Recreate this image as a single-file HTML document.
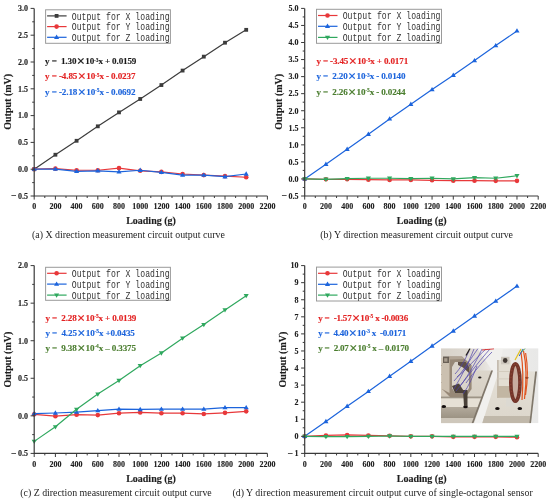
<!DOCTYPE html>
<html><head><meta charset="utf-8"><style>
html,body{margin:0;padding:0;background:#fff;}
svg{display:block;}
.tk{font-family:"Liberation Serif",serif;font-weight:bold;font-size:8px;fill:#1e1e1e;stroke:#1e1e1e;stroke-width:0.12px;}
.at{font-family:"Liberation Serif",serif;font-weight:bold;font-size:10px;fill:#1e1e1e;stroke:#1e1e1e;stroke-width:0.15px;}
.cap{font-family:"Liberation Serif",serif;font-size:9.9px;fill:#1e1e1e;}
.lg{font-family:"Liberation Mono",monospace;font-size:10.3px;fill:#333;}
.eq{font-family:"Liberation Serif",serif;font-weight:bold;font-size:9.1px;}
.sup{font-size:5.5px;}
.mul{font-family:"Noto Sans CJK SC",sans-serif;font-weight:bold;}
</style></head><body>
<svg width="550" height="502" viewBox="0 0 550 502">
<rect width="550" height="502" fill="#fff"/>
<polyline points="34.20,169.20 55.40,154.73 76.60,140.79 97.80,126.32 119.00,112.38 140.20,98.98 161.40,85.05 182.60,70.58 203.80,56.64 225.00,42.70 246.20,29.84" fill="none" stroke="#3c3c3c" stroke-width="1.2" stroke-linejoin="round"/>
<rect x="32.30" y="167.30" width="3.80" height="3.80" fill="#3c3c3c"/>
<rect x="53.50" y="152.83" width="3.80" height="3.80" fill="#3c3c3c"/>
<rect x="74.70" y="138.89" width="3.80" height="3.80" fill="#3c3c3c"/>
<rect x="95.90" y="124.42" width="3.80" height="3.80" fill="#3c3c3c"/>
<rect x="117.10" y="110.48" width="3.80" height="3.80" fill="#3c3c3c"/>
<rect x="138.30" y="97.08" width="3.80" height="3.80" fill="#3c3c3c"/>
<rect x="159.50" y="83.15" width="3.80" height="3.80" fill="#3c3c3c"/>
<rect x="180.70" y="68.68" width="3.80" height="3.80" fill="#3c3c3c"/>
<rect x="201.90" y="54.74" width="3.80" height="3.80" fill="#3c3c3c"/>
<rect x="223.10" y="40.80" width="3.80" height="3.80" fill="#3c3c3c"/>
<rect x="244.30" y="27.94" width="3.80" height="3.80" fill="#3c3c3c"/>
<polyline points="34.20,169.20 55.40,168.66 76.60,170.27 97.80,170.27 119.00,168.13 140.20,170.81 161.40,171.88 182.60,174.02 203.80,175.10 225.00,176.17 246.20,177.24" fill="none" stroke="#e8383a" stroke-width="1.2" stroke-linejoin="round"/>
<circle cx="34.20" cy="169.20" r="2.3" fill="#e8383a"/>
<circle cx="55.40" cy="168.66" r="2.3" fill="#e8383a"/>
<circle cx="76.60" cy="170.27" r="2.3" fill="#e8383a"/>
<circle cx="97.80" cy="170.27" r="2.3" fill="#e8383a"/>
<circle cx="119.00" cy="168.13" r="2.3" fill="#e8383a"/>
<circle cx="140.20" cy="170.81" r="2.3" fill="#e8383a"/>
<circle cx="161.40" cy="171.88" r="2.3" fill="#e8383a"/>
<circle cx="182.60" cy="174.02" r="2.3" fill="#e8383a"/>
<circle cx="203.80" cy="175.10" r="2.3" fill="#e8383a"/>
<circle cx="225.00" cy="176.17" r="2.3" fill="#e8383a"/>
<circle cx="246.20" cy="177.24" r="2.3" fill="#e8383a"/>
<polyline points="34.20,169.20 55.40,169.20 76.60,171.34 97.80,170.81 119.00,171.88 140.20,170.27 161.40,172.42 182.60,175.10 203.80,175.10 225.00,176.70 246.20,174.02" fill="none" stroke="#1c64dc" stroke-width="1.2" stroke-linejoin="round"/>
<path d="M34.20 166.50L36.77 170.87L31.64 170.87Z" fill="#1c64dc"/>
<path d="M55.40 166.50L57.97 170.87L52.84 170.87Z" fill="#1c64dc"/>
<path d="M76.60 168.64L79.16 173.02L74.03 173.02Z" fill="#1c64dc"/>
<path d="M97.80 168.11L100.37 172.48L95.24 172.48Z" fill="#1c64dc"/>
<path d="M119.00 169.18L121.56 173.55L116.44 173.55Z" fill="#1c64dc"/>
<path d="M140.20 167.57L142.76 171.95L137.63 171.95Z" fill="#1c64dc"/>
<path d="M161.40 169.72L163.97 174.09L158.84 174.09Z" fill="#1c64dc"/>
<path d="M182.60 172.40L185.17 176.77L180.04 176.77Z" fill="#1c64dc"/>
<path d="M203.80 172.40L206.37 176.77L201.24 176.77Z" fill="#1c64dc"/>
<path d="M225.00 174.00L227.56 178.38L222.44 178.38Z" fill="#1c64dc"/>
<path d="M246.20 171.32L248.76 175.70L243.63 175.70Z" fill="#1c64dc"/>
<path d="M34.20 8.40V196.00H267.40" fill="none" stroke="#3a3a3a" stroke-width="1.2"/>
<path d="M30.60 196.00H34.20" stroke="#3a3a3a" stroke-width="1"/>
<path d="M32.20 182.60H34.20" stroke="#3a3a3a" stroke-width="1"/>
<path d="M30.60 169.20H34.20" stroke="#3a3a3a" stroke-width="1"/>
<path d="M32.20 155.80H34.20" stroke="#3a3a3a" stroke-width="1"/>
<path d="M30.60 142.40H34.20" stroke="#3a3a3a" stroke-width="1"/>
<path d="M32.20 129.00H34.20" stroke="#3a3a3a" stroke-width="1"/>
<path d="M30.60 115.60H34.20" stroke="#3a3a3a" stroke-width="1"/>
<path d="M32.20 102.20H34.20" stroke="#3a3a3a" stroke-width="1"/>
<path d="M30.60 88.80H34.20" stroke="#3a3a3a" stroke-width="1"/>
<path d="M32.20 75.40H34.20" stroke="#3a3a3a" stroke-width="1"/>
<path d="M30.60 62.00H34.20" stroke="#3a3a3a" stroke-width="1"/>
<path d="M32.20 48.60H34.20" stroke="#3a3a3a" stroke-width="1"/>
<path d="M30.60 35.20H34.20" stroke="#3a3a3a" stroke-width="1"/>
<path d="M32.20 21.80H34.20" stroke="#3a3a3a" stroke-width="1"/>
<path d="M30.60 8.40H34.20" stroke="#3a3a3a" stroke-width="1"/>
<path d="M34.20 196.00V199.60" stroke="#3a3a3a" stroke-width="1"/>
<path d="M44.80 196.00V198.00" stroke="#3a3a3a" stroke-width="1"/>
<path d="M55.40 196.00V199.60" stroke="#3a3a3a" stroke-width="1"/>
<path d="M66.00 196.00V198.00" stroke="#3a3a3a" stroke-width="1"/>
<path d="M76.60 196.00V199.60" stroke="#3a3a3a" stroke-width="1"/>
<path d="M87.20 196.00V198.00" stroke="#3a3a3a" stroke-width="1"/>
<path d="M97.80 196.00V199.60" stroke="#3a3a3a" stroke-width="1"/>
<path d="M108.40 196.00V198.00" stroke="#3a3a3a" stroke-width="1"/>
<path d="M119.00 196.00V199.60" stroke="#3a3a3a" stroke-width="1"/>
<path d="M129.60 196.00V198.00" stroke="#3a3a3a" stroke-width="1"/>
<path d="M140.20 196.00V199.60" stroke="#3a3a3a" stroke-width="1"/>
<path d="M150.80 196.00V198.00" stroke="#3a3a3a" stroke-width="1"/>
<path d="M161.40 196.00V199.60" stroke="#3a3a3a" stroke-width="1"/>
<path d="M172.00 196.00V198.00" stroke="#3a3a3a" stroke-width="1"/>
<path d="M182.60 196.00V199.60" stroke="#3a3a3a" stroke-width="1"/>
<path d="M193.20 196.00V198.00" stroke="#3a3a3a" stroke-width="1"/>
<path d="M203.80 196.00V199.60" stroke="#3a3a3a" stroke-width="1"/>
<path d="M214.40 196.00V198.00" stroke="#3a3a3a" stroke-width="1"/>
<path d="M225.00 196.00V199.60" stroke="#3a3a3a" stroke-width="1"/>
<path d="M235.60 196.00V198.00" stroke="#3a3a3a" stroke-width="1"/>
<path d="M246.20 196.00V199.60" stroke="#3a3a3a" stroke-width="1"/>
<path d="M256.80 196.00V198.00" stroke="#3a3a3a" stroke-width="1"/>
<path d="M267.40 196.00V199.60" stroke="#3a3a3a" stroke-width="1"/>
<text x="28.10" y="198.80" class="tk" text-anchor="end"><tspan style="font-size:9.6px" dy="0.5">−</tspan><tspan dy="-0.5"> </tspan>0.5</text>
<text x="28.10" y="172.00" class="tk" text-anchor="end">0.0</text>
<text x="28.10" y="145.20" class="tk" text-anchor="end">0.5</text>
<text x="28.10" y="118.40" class="tk" text-anchor="end">1.0</text>
<text x="28.10" y="91.60" class="tk" text-anchor="end">1.5</text>
<text x="28.10" y="64.80" class="tk" text-anchor="end">2.0</text>
<text x="28.10" y="38.00" class="tk" text-anchor="end">2.5</text>
<text x="28.10" y="11.20" class="tk" text-anchor="end">3.0</text>
<text x="34.20" y="209.20" class="tk" text-anchor="middle">0</text>
<text x="55.40" y="209.20" class="tk" text-anchor="middle">200</text>
<text x="76.60" y="209.20" class="tk" text-anchor="middle">400</text>
<text x="97.80" y="209.20" class="tk" text-anchor="middle">600</text>
<text x="119.00" y="209.20" class="tk" text-anchor="middle">800</text>
<text x="140.20" y="209.20" class="tk" text-anchor="middle">1000</text>
<text x="161.40" y="209.20" class="tk" text-anchor="middle">1200</text>
<text x="182.60" y="209.20" class="tk" text-anchor="middle">1400</text>
<text x="203.80" y="209.20" class="tk" text-anchor="middle">1600</text>
<text x="225.00" y="209.20" class="tk" text-anchor="middle">1800</text>
<text x="246.20" y="209.20" class="tk" text-anchor="middle">2000</text>
<text x="267.40" y="209.20" class="tk" text-anchor="middle">2200</text>
<text class="at" transform="translate(11.30 101.80) rotate(-90)" text-anchor="middle">Output (mV)</text>
<text class="at" x="151.00" y="224.20" text-anchor="middle">Loading (g)</text>
<text class="cap" x="32.00" y="238.40" textLength="192.80" lengthAdjust="spacing">(a) X direction measurement circuit output curve</text>
<rect x="45.60" y="9.80" width="124.80" height="33.50" fill="#fff" stroke="#9a9a9a" stroke-width="1"/>
<path d="M47.10 15.90H66.60" stroke="#3c3c3c" stroke-width="1.2"/>
<rect x="54.70" y="14.00" width="3.80" height="3.80" fill="#3c3c3c"/>
<text class="lg" x="71.80" y="19.50" textLength="97.80" lengthAdjust="spacingAndGlyphs">Output for X loading</text>
<path d="M47.10 26.60H66.60" stroke="#e8383a" stroke-width="1.2"/>
<circle cx="56.60" cy="26.60" r="2.3" fill="#e8383a"/>
<text class="lg" x="71.80" y="30.20" textLength="97.80" lengthAdjust="spacingAndGlyphs">Output for Y loading</text>
<path d="M47.10 37.30H66.60" stroke="#1c64dc" stroke-width="1.2"/>
<path d="M56.60 34.60L59.16 38.97L54.04 38.97Z" fill="#1c64dc"/>
<text class="lg" x="71.80" y="40.90" textLength="97.80" lengthAdjust="spacingAndGlyphs">Output for Z loading</text>
<text class="eq" x="45.10" y="64.20" fill="#1a1a1a" stroke="#1a1a1a" stroke-width="0.12" textLength="91.30" lengthAdjust="spacing">y =&#160; 1.30<tspan class="mul">×</tspan>10<tspan class="sup" dy="-2.6">-3</tspan><tspan dy="2.6">x + 0.0159</tspan></text>
<text class="eq" x="45.10" y="79.10" fill="#e32222" stroke="#e32222" stroke-width="0.12" textLength="90.40" lengthAdjust="spacing">y = -4.85<tspan class="mul">×</tspan>10<tspan class="sup" dy="-2.6">-5</tspan><tspan dy="2.6">x - 0.0237</tspan></text>
<text class="eq" x="45.10" y="94.50" fill="#1c64dc" stroke="#1c64dc" stroke-width="0.12" textLength="90.40" lengthAdjust="spacing">y = -2.18<tspan class="mul">×</tspan>10<tspan class="sup" dy="-2.6">-5</tspan><tspan dy="2.6">x - 0.0692</tspan></text>
<polyline points="304.70,178.95 325.93,179.29 347.15,179.29 368.38,179.63 389.61,179.97 410.84,179.97 432.06,180.31 453.29,180.65 474.52,180.65 495.75,180.86 516.97,180.86" fill="none" stroke="#e8383a" stroke-width="1.2" stroke-linejoin="round"/>
<circle cx="304.70" cy="178.95" r="2.3" fill="#e8383a"/>
<circle cx="325.93" cy="179.29" r="2.3" fill="#e8383a"/>
<circle cx="347.15" cy="179.29" r="2.3" fill="#e8383a"/>
<circle cx="368.38" cy="179.63" r="2.3" fill="#e8383a"/>
<circle cx="389.61" cy="179.97" r="2.3" fill="#e8383a"/>
<circle cx="410.84" cy="179.97" r="2.3" fill="#e8383a"/>
<circle cx="432.06" cy="180.31" r="2.3" fill="#e8383a"/>
<circle cx="453.29" cy="180.65" r="2.3" fill="#e8383a"/>
<circle cx="474.52" cy="180.65" r="2.3" fill="#e8383a"/>
<circle cx="495.75" cy="180.86" r="2.3" fill="#e8383a"/>
<circle cx="516.97" cy="180.86" r="2.3" fill="#e8383a"/>
<polyline points="304.70,178.95 325.93,164.28 347.15,149.27 368.38,134.26 389.61,118.91 410.84,104.25 432.06,89.58 453.29,75.25 474.52,60.59 495.75,45.58 516.97,30.91" fill="none" stroke="#1c64dc" stroke-width="1.2" stroke-linejoin="round"/>
<path d="M304.70 176.25L307.26 180.62L302.13 180.62Z" fill="#1c64dc"/>
<path d="M325.93 161.58L328.49 165.95L323.36 165.95Z" fill="#1c64dc"/>
<path d="M347.15 146.57L349.72 150.94L344.59 150.94Z" fill="#1c64dc"/>
<path d="M368.38 131.56L370.95 135.94L365.82 135.94Z" fill="#1c64dc"/>
<path d="M389.61 116.21L392.17 120.59L387.04 120.59Z" fill="#1c64dc"/>
<path d="M410.84 101.55L413.40 105.92L408.27 105.92Z" fill="#1c64dc"/>
<path d="M432.06 86.88L434.63 91.25L429.50 91.25Z" fill="#1c64dc"/>
<path d="M453.29 72.55L455.86 76.93L450.73 76.93Z" fill="#1c64dc"/>
<path d="M474.52 57.89L477.08 62.26L471.95 62.26Z" fill="#1c64dc"/>
<path d="M495.75 42.88L498.31 47.25L493.18 47.25Z" fill="#1c64dc"/>
<path d="M516.97 28.21L519.54 32.59L514.41 32.59Z" fill="#1c64dc"/>
<polyline points="304.70,178.95 325.93,179.29 347.15,178.60 368.38,178.26 389.61,178.26 410.84,178.60 432.06,178.26 453.29,178.95 474.52,177.58 495.75,178.26 516.97,175.74" fill="none" stroke="#2fa85e" stroke-width="1.2" stroke-linejoin="round"/>
<path d="M304.70 181.65L307.26 177.27L302.13 177.27Z" fill="#2fa85e"/>
<path d="M325.93 181.99L328.49 177.61L323.36 177.61Z" fill="#2fa85e"/>
<path d="M347.15 181.30L349.72 176.93L344.59 176.93Z" fill="#2fa85e"/>
<path d="M368.38 180.96L370.95 176.59L365.82 176.59Z" fill="#2fa85e"/>
<path d="M389.61 180.96L392.17 176.59L387.04 176.59Z" fill="#2fa85e"/>
<path d="M410.84 181.30L413.40 176.93L408.27 176.93Z" fill="#2fa85e"/>
<path d="M432.06 180.96L434.63 176.59L429.50 176.59Z" fill="#2fa85e"/>
<path d="M453.29 181.65L455.86 177.27L450.73 177.27Z" fill="#2fa85e"/>
<path d="M474.52 180.28L477.08 175.91L471.95 175.91Z" fill="#2fa85e"/>
<path d="M495.75 180.96L498.31 176.59L493.18 176.59Z" fill="#2fa85e"/>
<path d="M516.97 178.44L519.54 174.07L514.41 174.07Z" fill="#2fa85e"/>
<path d="M304.70 8.40V196.00H538.20" fill="none" stroke="#3a3a3a" stroke-width="1.2"/>
<path d="M301.10 196.00H304.70" stroke="#3a3a3a" stroke-width="1"/>
<path d="M302.70 187.47H304.70" stroke="#3a3a3a" stroke-width="1"/>
<path d="M301.10 178.95H304.70" stroke="#3a3a3a" stroke-width="1"/>
<path d="M302.70 170.42H304.70" stroke="#3a3a3a" stroke-width="1"/>
<path d="M301.10 161.89H304.70" stroke="#3a3a3a" stroke-width="1"/>
<path d="M302.70 153.36H304.70" stroke="#3a3a3a" stroke-width="1"/>
<path d="M301.10 144.84H304.70" stroke="#3a3a3a" stroke-width="1"/>
<path d="M302.70 136.31H304.70" stroke="#3a3a3a" stroke-width="1"/>
<path d="M301.10 127.78H304.70" stroke="#3a3a3a" stroke-width="1"/>
<path d="M302.70 119.25H304.70" stroke="#3a3a3a" stroke-width="1"/>
<path d="M301.10 110.73H304.70" stroke="#3a3a3a" stroke-width="1"/>
<path d="M302.70 102.20H304.70" stroke="#3a3a3a" stroke-width="1"/>
<path d="M301.10 93.67H304.70" stroke="#3a3a3a" stroke-width="1"/>
<path d="M302.70 85.15H304.70" stroke="#3a3a3a" stroke-width="1"/>
<path d="M301.10 76.62H304.70" stroke="#3a3a3a" stroke-width="1"/>
<path d="M302.70 68.09H304.70" stroke="#3a3a3a" stroke-width="1"/>
<path d="M301.10 59.56H304.70" stroke="#3a3a3a" stroke-width="1"/>
<path d="M302.70 51.04H304.70" stroke="#3a3a3a" stroke-width="1"/>
<path d="M301.10 42.51H304.70" stroke="#3a3a3a" stroke-width="1"/>
<path d="M302.70 33.98H304.70" stroke="#3a3a3a" stroke-width="1"/>
<path d="M301.10 25.45H304.70" stroke="#3a3a3a" stroke-width="1"/>
<path d="M302.70 16.93H304.70" stroke="#3a3a3a" stroke-width="1"/>
<path d="M301.10 8.40H304.70" stroke="#3a3a3a" stroke-width="1"/>
<path d="M304.70 196.00V199.60" stroke="#3a3a3a" stroke-width="1"/>
<path d="M315.31 196.00V198.00" stroke="#3a3a3a" stroke-width="1"/>
<path d="M325.93 196.00V199.60" stroke="#3a3a3a" stroke-width="1"/>
<path d="M336.54 196.00V198.00" stroke="#3a3a3a" stroke-width="1"/>
<path d="M347.15 196.00V199.60" stroke="#3a3a3a" stroke-width="1"/>
<path d="M357.77 196.00V198.00" stroke="#3a3a3a" stroke-width="1"/>
<path d="M368.38 196.00V199.60" stroke="#3a3a3a" stroke-width="1"/>
<path d="M379.00 196.00V198.00" stroke="#3a3a3a" stroke-width="1"/>
<path d="M389.61 196.00V199.60" stroke="#3a3a3a" stroke-width="1"/>
<path d="M400.22 196.00V198.00" stroke="#3a3a3a" stroke-width="1"/>
<path d="M410.84 196.00V199.60" stroke="#3a3a3a" stroke-width="1"/>
<path d="M421.45 196.00V198.00" stroke="#3a3a3a" stroke-width="1"/>
<path d="M432.06 196.00V199.60" stroke="#3a3a3a" stroke-width="1"/>
<path d="M442.68 196.00V198.00" stroke="#3a3a3a" stroke-width="1"/>
<path d="M453.29 196.00V199.60" stroke="#3a3a3a" stroke-width="1"/>
<path d="M463.90 196.00V198.00" stroke="#3a3a3a" stroke-width="1"/>
<path d="M474.52 196.00V199.60" stroke="#3a3a3a" stroke-width="1"/>
<path d="M485.13 196.00V198.00" stroke="#3a3a3a" stroke-width="1"/>
<path d="M495.75 196.00V199.60" stroke="#3a3a3a" stroke-width="1"/>
<path d="M506.36 196.00V198.00" stroke="#3a3a3a" stroke-width="1"/>
<path d="M516.97 196.00V199.60" stroke="#3a3a3a" stroke-width="1"/>
<path d="M527.59 196.00V198.00" stroke="#3a3a3a" stroke-width="1"/>
<path d="M538.20 196.00V199.60" stroke="#3a3a3a" stroke-width="1"/>
<text x="298.60" y="198.80" class="tk" text-anchor="end"><tspan style="font-size:9.6px" dy="0.5">−</tspan><tspan dy="-0.5"> </tspan>0.5</text>
<text x="298.60" y="181.75" class="tk" text-anchor="end">0.0</text>
<text x="298.60" y="164.69" class="tk" text-anchor="end">0.5</text>
<text x="298.60" y="147.64" class="tk" text-anchor="end">1.0</text>
<text x="298.60" y="130.58" class="tk" text-anchor="end">1.5</text>
<text x="298.60" y="113.53" class="tk" text-anchor="end">2.0</text>
<text x="298.60" y="96.47" class="tk" text-anchor="end">2.5</text>
<text x="298.60" y="79.42" class="tk" text-anchor="end">3.0</text>
<text x="298.60" y="62.36" class="tk" text-anchor="end">3.5</text>
<text x="298.60" y="45.31" class="tk" text-anchor="end">4.0</text>
<text x="298.60" y="28.25" class="tk" text-anchor="end">4.5</text>
<text x="298.60" y="11.20" class="tk" text-anchor="end">5.0</text>
<text x="304.70" y="209.20" class="tk" text-anchor="middle">0</text>
<text x="325.93" y="209.20" class="tk" text-anchor="middle">200</text>
<text x="347.15" y="209.20" class="tk" text-anchor="middle">400</text>
<text x="368.38" y="209.20" class="tk" text-anchor="middle">600</text>
<text x="389.61" y="209.20" class="tk" text-anchor="middle">800</text>
<text x="410.84" y="209.20" class="tk" text-anchor="middle">1000</text>
<text x="432.06" y="209.20" class="tk" text-anchor="middle">1200</text>
<text x="453.29" y="209.20" class="tk" text-anchor="middle">1400</text>
<text x="474.52" y="209.20" class="tk" text-anchor="middle">1600</text>
<text x="495.75" y="209.20" class="tk" text-anchor="middle">1800</text>
<text x="516.97" y="209.20" class="tk" text-anchor="middle">2000</text>
<text x="538.20" y="209.20" class="tk" text-anchor="middle">2200</text>
<text class="at" transform="translate(281.80 101.80) rotate(-90)" text-anchor="middle">Output (mV)</text>
<text class="at" x="421.65" y="224.20" text-anchor="middle">Loading (g)</text>
<text class="cap" x="320.30" y="238.40" textLength="192.70" lengthAdjust="spacing">(b) Y direction measurement circuit output curve</text>
<rect x="316.50" y="9.30" width="125.00" height="34.00" fill="#fff" stroke="#9a9a9a" stroke-width="1"/>
<path d="M318.00 15.50H337.50" stroke="#e8383a" stroke-width="1.2"/>
<circle cx="327.50" cy="15.50" r="2.3" fill="#e8383a"/>
<text class="lg" x="342.70" y="19.10" textLength="97.80" lengthAdjust="spacingAndGlyphs">Output for X loading</text>
<path d="M318.00 26.30H337.50" stroke="#1c64dc" stroke-width="1.2"/>
<path d="M327.50 23.60L330.06 27.97L324.94 27.97Z" fill="#1c64dc"/>
<text class="lg" x="342.70" y="29.90" textLength="97.80" lengthAdjust="spacingAndGlyphs">Output for Y loading</text>
<path d="M318.00 37.40H337.50" stroke="#2fa85e" stroke-width="1.2"/>
<path d="M327.50 40.10L330.06 35.73L324.94 35.73Z" fill="#2fa85e"/>
<text class="lg" x="342.70" y="41.00" textLength="97.80" lengthAdjust="spacingAndGlyphs">Output for Z loading</text>
<text class="eq" x="316.40" y="64.20" fill="#e32222" stroke="#e32222" stroke-width="0.12" textLength="91.80" lengthAdjust="spacing">y = -3.45<tspan class="mul">×</tspan>10<tspan class="sup" dy="-2.6">-5</tspan><tspan dy="2.6">x + 0.0171</tspan></text>
<text class="eq" x="316.40" y="79.10" fill="#1c64dc" stroke="#1c64dc" stroke-width="0.12" textLength="89.10" lengthAdjust="spacing">y =&#160; 2.20<tspan class="mul">×</tspan>10<tspan class="sup" dy="-2.6">-3</tspan><tspan dy="2.6">x - 0.0140</tspan></text>
<text class="eq" x="316.40" y="94.50" fill="#4a7d2e" stroke="#4a7d2e" stroke-width="0.12" textLength="89.10" lengthAdjust="spacing">y =&#160; 2.26<tspan class="mul">×</tspan>10<tspan class="sup" dy="-2.6">-5</tspan><tspan dy="2.6">x - 0.0244</tspan></text>
<polyline points="34.20,414.34 55.40,416.22 76.60,414.71 97.80,415.09 119.00,413.21 140.20,412.46 161.40,413.21 182.60,413.21 203.80,413.96 225.00,412.84 246.20,411.33" fill="none" stroke="#e8383a" stroke-width="1.2" stroke-linejoin="round"/>
<circle cx="34.20" cy="414.34" r="2.3" fill="#e8383a"/>
<circle cx="55.40" cy="416.22" r="2.3" fill="#e8383a"/>
<circle cx="76.60" cy="414.71" r="2.3" fill="#e8383a"/>
<circle cx="97.80" cy="415.09" r="2.3" fill="#e8383a"/>
<circle cx="119.00" cy="413.21" r="2.3" fill="#e8383a"/>
<circle cx="140.20" cy="412.46" r="2.3" fill="#e8383a"/>
<circle cx="161.40" cy="413.21" r="2.3" fill="#e8383a"/>
<circle cx="182.60" cy="413.21" r="2.3" fill="#e8383a"/>
<circle cx="203.80" cy="413.96" r="2.3" fill="#e8383a"/>
<circle cx="225.00" cy="412.84" r="2.3" fill="#e8383a"/>
<circle cx="246.20" cy="411.33" r="2.3" fill="#e8383a"/>
<polyline points="34.20,413.59 55.40,412.99 76.60,412.08 97.80,410.58 119.00,409.08 140.20,409.45 161.40,409.08 182.60,409.08 203.80,409.08 225.00,407.58 246.20,407.58" fill="none" stroke="#1c64dc" stroke-width="1.2" stroke-linejoin="round"/>
<path d="M34.20 410.89L36.77 415.26L31.64 415.26Z" fill="#1c64dc"/>
<path d="M55.40 410.29L57.97 414.66L52.84 414.66Z" fill="#1c64dc"/>
<path d="M76.60 409.38L79.16 413.76L74.03 413.76Z" fill="#1c64dc"/>
<path d="M97.80 407.88L100.37 412.26L95.24 412.26Z" fill="#1c64dc"/>
<path d="M119.00 406.38L121.56 410.75L116.44 410.75Z" fill="#1c64dc"/>
<path d="M140.20 406.75L142.76 411.13L137.63 411.13Z" fill="#1c64dc"/>
<path d="M161.40 406.38L163.97 410.75L158.84 410.75Z" fill="#1c64dc"/>
<path d="M182.60 406.38L185.17 410.75L180.04 410.75Z" fill="#1c64dc"/>
<path d="M203.80 406.38L206.37 410.75L201.24 410.75Z" fill="#1c64dc"/>
<path d="M225.00 404.88L227.56 409.25L222.44 409.25Z" fill="#1c64dc"/>
<path d="M246.20 404.88L248.76 409.25L243.63 409.25Z" fill="#1c64dc"/>
<polyline points="34.20,441.38 55.40,426.81 76.60,409.30 97.80,394.06 119.00,380.53 140.20,365.66 161.40,352.96 182.60,338.17 203.80,324.57 225.00,309.92 246.20,295.65" fill="none" stroke="#2fa85e" stroke-width="1.2" stroke-linejoin="round"/>
<path d="M34.20 444.08L36.77 439.71L31.64 439.71Z" fill="#2fa85e"/>
<path d="M55.40 429.51L57.97 425.13L52.84 425.13Z" fill="#2fa85e"/>
<path d="M76.60 412.00L79.16 407.63L74.03 407.63Z" fill="#2fa85e"/>
<path d="M97.80 396.76L100.37 392.38L95.24 392.38Z" fill="#2fa85e"/>
<path d="M119.00 383.23L121.56 378.86L116.44 378.86Z" fill="#2fa85e"/>
<path d="M140.20 368.36L142.76 363.99L137.63 363.99Z" fill="#2fa85e"/>
<path d="M161.40 355.66L163.97 351.29L158.84 351.29Z" fill="#2fa85e"/>
<path d="M182.60 340.87L185.17 336.49L180.04 336.49Z" fill="#2fa85e"/>
<path d="M203.80 327.27L206.37 322.90L201.24 322.90Z" fill="#2fa85e"/>
<path d="M225.00 312.62L227.56 308.25L222.44 308.25Z" fill="#2fa85e"/>
<path d="M246.20 298.35L248.76 293.97L243.63 293.97Z" fill="#2fa85e"/>
<path d="M34.20 265.60V453.40H267.40" fill="none" stroke="#3a3a3a" stroke-width="1.2"/>
<path d="M30.60 453.40H34.20" stroke="#3a3a3a" stroke-width="1"/>
<path d="M32.20 434.62H34.20" stroke="#3a3a3a" stroke-width="1"/>
<path d="M30.60 415.84H34.20" stroke="#3a3a3a" stroke-width="1"/>
<path d="M32.20 397.06H34.20" stroke="#3a3a3a" stroke-width="1"/>
<path d="M30.60 378.28H34.20" stroke="#3a3a3a" stroke-width="1"/>
<path d="M32.20 359.50H34.20" stroke="#3a3a3a" stroke-width="1"/>
<path d="M30.60 340.72H34.20" stroke="#3a3a3a" stroke-width="1"/>
<path d="M32.20 321.94H34.20" stroke="#3a3a3a" stroke-width="1"/>
<path d="M30.60 303.16H34.20" stroke="#3a3a3a" stroke-width="1"/>
<path d="M32.20 284.38H34.20" stroke="#3a3a3a" stroke-width="1"/>
<path d="M30.60 265.60H34.20" stroke="#3a3a3a" stroke-width="1"/>
<path d="M34.20 453.40V457.00" stroke="#3a3a3a" stroke-width="1"/>
<path d="M44.80 453.40V455.40" stroke="#3a3a3a" stroke-width="1"/>
<path d="M55.40 453.40V457.00" stroke="#3a3a3a" stroke-width="1"/>
<path d="M66.00 453.40V455.40" stroke="#3a3a3a" stroke-width="1"/>
<path d="M76.60 453.40V457.00" stroke="#3a3a3a" stroke-width="1"/>
<path d="M87.20 453.40V455.40" stroke="#3a3a3a" stroke-width="1"/>
<path d="M97.80 453.40V457.00" stroke="#3a3a3a" stroke-width="1"/>
<path d="M108.40 453.40V455.40" stroke="#3a3a3a" stroke-width="1"/>
<path d="M119.00 453.40V457.00" stroke="#3a3a3a" stroke-width="1"/>
<path d="M129.60 453.40V455.40" stroke="#3a3a3a" stroke-width="1"/>
<path d="M140.20 453.40V457.00" stroke="#3a3a3a" stroke-width="1"/>
<path d="M150.80 453.40V455.40" stroke="#3a3a3a" stroke-width="1"/>
<path d="M161.40 453.40V457.00" stroke="#3a3a3a" stroke-width="1"/>
<path d="M172.00 453.40V455.40" stroke="#3a3a3a" stroke-width="1"/>
<path d="M182.60 453.40V457.00" stroke="#3a3a3a" stroke-width="1"/>
<path d="M193.20 453.40V455.40" stroke="#3a3a3a" stroke-width="1"/>
<path d="M203.80 453.40V457.00" stroke="#3a3a3a" stroke-width="1"/>
<path d="M214.40 453.40V455.40" stroke="#3a3a3a" stroke-width="1"/>
<path d="M225.00 453.40V457.00" stroke="#3a3a3a" stroke-width="1"/>
<path d="M235.60 453.40V455.40" stroke="#3a3a3a" stroke-width="1"/>
<path d="M246.20 453.40V457.00" stroke="#3a3a3a" stroke-width="1"/>
<path d="M256.80 453.40V455.40" stroke="#3a3a3a" stroke-width="1"/>
<path d="M267.40 453.40V457.00" stroke="#3a3a3a" stroke-width="1"/>
<text x="28.10" y="456.20" class="tk" text-anchor="end"><tspan style="font-size:9.6px" dy="0.5">−</tspan><tspan dy="-0.5"> </tspan>0.5</text>
<text x="28.10" y="418.64" class="tk" text-anchor="end">0.0</text>
<text x="28.10" y="381.08" class="tk" text-anchor="end">0.5</text>
<text x="28.10" y="343.52" class="tk" text-anchor="end">1.0</text>
<text x="28.10" y="305.96" class="tk" text-anchor="end">1.5</text>
<text x="28.10" y="268.40" class="tk" text-anchor="end">2.0</text>
<text x="34.20" y="466.60" class="tk" text-anchor="middle">0</text>
<text x="55.40" y="466.60" class="tk" text-anchor="middle">200</text>
<text x="76.60" y="466.60" class="tk" text-anchor="middle">400</text>
<text x="97.80" y="466.60" class="tk" text-anchor="middle">600</text>
<text x="119.00" y="466.60" class="tk" text-anchor="middle">800</text>
<text x="140.20" y="466.60" class="tk" text-anchor="middle">1000</text>
<text x="161.40" y="466.60" class="tk" text-anchor="middle">1200</text>
<text x="182.60" y="466.60" class="tk" text-anchor="middle">1400</text>
<text x="203.80" y="466.60" class="tk" text-anchor="middle">1600</text>
<text x="225.00" y="466.60" class="tk" text-anchor="middle">1800</text>
<text x="246.20" y="466.60" class="tk" text-anchor="middle">2000</text>
<text x="267.40" y="466.60" class="tk" text-anchor="middle">2200</text>
<text class="at" transform="translate(11.30 359.60) rotate(-90)" text-anchor="middle">Output (mV)</text>
<text class="at" x="151.00" y="481.60" text-anchor="middle">Loading (g)</text>
<text class="cap" x="20.30" y="495.80" textLength="191.40" lengthAdjust="spacing">(c) Z direction measurement circuit output curve</text>
<rect x="45.60" y="267.30" width="124.80" height="33.00" fill="#fff" stroke="#9a9a9a" stroke-width="1"/>
<path d="M47.10 273.30H66.60" stroke="#e8383a" stroke-width="1.2"/>
<circle cx="56.60" cy="273.30" r="2.3" fill="#e8383a"/>
<text class="lg" x="71.80" y="276.90" textLength="97.80" lengthAdjust="spacingAndGlyphs">Output for X loading</text>
<path d="M47.10 284.10H66.60" stroke="#1c64dc" stroke-width="1.2"/>
<path d="M56.60 281.40L59.16 285.77L54.04 285.77Z" fill="#1c64dc"/>
<text class="lg" x="71.80" y="287.70" textLength="97.80" lengthAdjust="spacingAndGlyphs">Output for Y loading</text>
<path d="M47.10 295.10H66.60" stroke="#2fa85e" stroke-width="1.2"/>
<path d="M56.60 297.80L59.16 293.43L54.04 293.43Z" fill="#2fa85e"/>
<text class="lg" x="71.80" y="298.70" textLength="97.80" lengthAdjust="spacingAndGlyphs">Output for Z loading</text>
<text class="eq" x="45.50" y="320.90" fill="#e32222" stroke="#e32222" stroke-width="0.12" textLength="90.90" lengthAdjust="spacing">y =&#160; 2.28<tspan class="mul">×</tspan>10<tspan class="sup" dy="-2.6">-5</tspan><tspan dy="2.6">x + 0.0139</tspan></text>
<text class="eq" x="45.50" y="335.80" fill="#1c64dc" stroke="#1c64dc" stroke-width="0.12" textLength="89.40" lengthAdjust="spacing">y =&#160; 4.25<tspan class="mul">×</tspan>10<tspan class="sup" dy="-2.6">-5</tspan><tspan dy="2.6">x +0.0435</tspan></text>
<text class="eq" x="45.50" y="350.90" fill="#4a7d2e" stroke="#4a7d2e" stroke-width="0.12" textLength="90.50" lengthAdjust="spacing">y =&#160; 9.38<tspan class="mul">×</tspan>10<tspan class="sup" dy="-2.6">-4</tspan><tspan dy="2.6">x – 0.3375</tspan></text>
<polyline points="304.70,436.33 325.93,435.47 347.15,434.96 368.38,435.47 389.61,435.82 410.84,436.33 432.06,436.33 453.29,436.84 474.52,436.84 495.75,436.84 516.97,437.18" fill="none" stroke="#e8383a" stroke-width="1.2" stroke-linejoin="round"/>
<circle cx="304.70" cy="436.33" r="2.3" fill="#e8383a"/>
<circle cx="325.93" cy="435.47" r="2.3" fill="#e8383a"/>
<circle cx="347.15" cy="434.96" r="2.3" fill="#e8383a"/>
<circle cx="368.38" cy="435.47" r="2.3" fill="#e8383a"/>
<circle cx="389.61" cy="435.82" r="2.3" fill="#e8383a"/>
<circle cx="410.84" cy="436.33" r="2.3" fill="#e8383a"/>
<circle cx="432.06" cy="436.33" r="2.3" fill="#e8383a"/>
<circle cx="453.29" cy="436.84" r="2.3" fill="#e8383a"/>
<circle cx="474.52" cy="436.84" r="2.3" fill="#e8383a"/>
<circle cx="495.75" cy="436.84" r="2.3" fill="#e8383a"/>
<circle cx="516.97" cy="437.18" r="2.3" fill="#e8383a"/>
<polyline points="304.70,436.33 325.93,421.47 347.15,406.28 368.38,391.43 389.61,376.23 410.84,361.21 432.06,346.01 453.29,330.99 474.52,315.96 495.75,301.11 516.97,286.09" fill="none" stroke="#1c64dc" stroke-width="1.2" stroke-linejoin="round"/>
<path d="M304.70 433.63L307.26 438.00L302.13 438.00Z" fill="#1c64dc"/>
<path d="M325.93 418.77L328.49 423.15L323.36 423.15Z" fill="#1c64dc"/>
<path d="M347.15 403.58L349.72 407.95L344.59 407.95Z" fill="#1c64dc"/>
<path d="M368.38 388.73L370.95 393.10L365.82 393.10Z" fill="#1c64dc"/>
<path d="M389.61 373.53L392.17 377.91L387.04 377.91Z" fill="#1c64dc"/>
<path d="M410.84 358.51L413.40 362.88L408.27 362.88Z" fill="#1c64dc"/>
<path d="M432.06 343.31L434.63 347.69L429.50 347.69Z" fill="#1c64dc"/>
<path d="M453.29 328.29L455.86 332.66L450.73 332.66Z" fill="#1c64dc"/>
<path d="M474.52 313.26L477.08 317.64L471.95 317.64Z" fill="#1c64dc"/>
<path d="M495.75 298.41L498.31 302.79L493.18 302.79Z" fill="#1c64dc"/>
<path d="M516.97 283.39L519.54 287.76L514.41 287.76Z" fill="#1c64dc"/>
<polyline points="304.70,436.33 325.93,436.67 347.15,436.67 368.38,436.33 389.61,435.99 410.84,436.33 432.06,436.33 453.29,436.33 474.52,436.33 495.75,436.33 516.97,436.33" fill="none" stroke="#2fa85e" stroke-width="1.2" stroke-linejoin="round"/>
<path d="M304.70 439.03L307.26 434.65L302.13 434.65Z" fill="#2fa85e"/>
<path d="M325.93 439.37L328.49 434.99L323.36 434.99Z" fill="#2fa85e"/>
<path d="M347.15 439.37L349.72 434.99L344.59 434.99Z" fill="#2fa85e"/>
<path d="M368.38 439.03L370.95 434.65L365.82 434.65Z" fill="#2fa85e"/>
<path d="M389.61 438.69L392.17 434.31L387.04 434.31Z" fill="#2fa85e"/>
<path d="M410.84 439.03L413.40 434.65L408.27 434.65Z" fill="#2fa85e"/>
<path d="M432.06 439.03L434.63 434.65L429.50 434.65Z" fill="#2fa85e"/>
<path d="M453.29 439.03L455.86 434.65L450.73 434.65Z" fill="#2fa85e"/>
<path d="M474.52 439.03L477.08 434.65L471.95 434.65Z" fill="#2fa85e"/>
<path d="M495.75 439.03L498.31 434.65L493.18 434.65Z" fill="#2fa85e"/>
<path d="M516.97 439.03L519.54 434.65L514.41 434.65Z" fill="#2fa85e"/>
<path d="M304.70 265.60V453.40H538.20" fill="none" stroke="#3a3a3a" stroke-width="1.2"/>
<path d="M301.10 453.40H304.70" stroke="#3a3a3a" stroke-width="1"/>
<path d="M302.70 444.86H304.70" stroke="#3a3a3a" stroke-width="1"/>
<path d="M301.10 436.33H304.70" stroke="#3a3a3a" stroke-width="1"/>
<path d="M302.70 427.79H304.70" stroke="#3a3a3a" stroke-width="1"/>
<path d="M301.10 419.25H304.70" stroke="#3a3a3a" stroke-width="1"/>
<path d="M302.70 410.72H304.70" stroke="#3a3a3a" stroke-width="1"/>
<path d="M301.10 402.18H304.70" stroke="#3a3a3a" stroke-width="1"/>
<path d="M302.70 393.65H304.70" stroke="#3a3a3a" stroke-width="1"/>
<path d="M301.10 385.11H304.70" stroke="#3a3a3a" stroke-width="1"/>
<path d="M302.70 376.57H304.70" stroke="#3a3a3a" stroke-width="1"/>
<path d="M301.10 368.04H304.70" stroke="#3a3a3a" stroke-width="1"/>
<path d="M302.70 359.50H304.70" stroke="#3a3a3a" stroke-width="1"/>
<path d="M301.10 350.96H304.70" stroke="#3a3a3a" stroke-width="1"/>
<path d="M302.70 342.43H304.70" stroke="#3a3a3a" stroke-width="1"/>
<path d="M301.10 333.89H304.70" stroke="#3a3a3a" stroke-width="1"/>
<path d="M302.70 325.35H304.70" stroke="#3a3a3a" stroke-width="1"/>
<path d="M301.10 316.82H304.70" stroke="#3a3a3a" stroke-width="1"/>
<path d="M302.70 308.28H304.70" stroke="#3a3a3a" stroke-width="1"/>
<path d="M301.10 299.75H304.70" stroke="#3a3a3a" stroke-width="1"/>
<path d="M302.70 291.21H304.70" stroke="#3a3a3a" stroke-width="1"/>
<path d="M301.10 282.67H304.70" stroke="#3a3a3a" stroke-width="1"/>
<path d="M302.70 274.14H304.70" stroke="#3a3a3a" stroke-width="1"/>
<path d="M301.10 265.60H304.70" stroke="#3a3a3a" stroke-width="1"/>
<path d="M304.70 453.40V457.00" stroke="#3a3a3a" stroke-width="1"/>
<path d="M315.31 453.40V455.40" stroke="#3a3a3a" stroke-width="1"/>
<path d="M325.93 453.40V457.00" stroke="#3a3a3a" stroke-width="1"/>
<path d="M336.54 453.40V455.40" stroke="#3a3a3a" stroke-width="1"/>
<path d="M347.15 453.40V457.00" stroke="#3a3a3a" stroke-width="1"/>
<path d="M357.77 453.40V455.40" stroke="#3a3a3a" stroke-width="1"/>
<path d="M368.38 453.40V457.00" stroke="#3a3a3a" stroke-width="1"/>
<path d="M379.00 453.40V455.40" stroke="#3a3a3a" stroke-width="1"/>
<path d="M389.61 453.40V457.00" stroke="#3a3a3a" stroke-width="1"/>
<path d="M400.22 453.40V455.40" stroke="#3a3a3a" stroke-width="1"/>
<path d="M410.84 453.40V457.00" stroke="#3a3a3a" stroke-width="1"/>
<path d="M421.45 453.40V455.40" stroke="#3a3a3a" stroke-width="1"/>
<path d="M432.06 453.40V457.00" stroke="#3a3a3a" stroke-width="1"/>
<path d="M442.68 453.40V455.40" stroke="#3a3a3a" stroke-width="1"/>
<path d="M453.29 453.40V457.00" stroke="#3a3a3a" stroke-width="1"/>
<path d="M463.90 453.40V455.40" stroke="#3a3a3a" stroke-width="1"/>
<path d="M474.52 453.40V457.00" stroke="#3a3a3a" stroke-width="1"/>
<path d="M485.13 453.40V455.40" stroke="#3a3a3a" stroke-width="1"/>
<path d="M495.75 453.40V457.00" stroke="#3a3a3a" stroke-width="1"/>
<path d="M506.36 453.40V455.40" stroke="#3a3a3a" stroke-width="1"/>
<path d="M516.97 453.40V457.00" stroke="#3a3a3a" stroke-width="1"/>
<path d="M527.59 453.40V455.40" stroke="#3a3a3a" stroke-width="1"/>
<path d="M538.20 453.40V457.00" stroke="#3a3a3a" stroke-width="1"/>
<text x="298.60" y="456.20" class="tk" text-anchor="end"><tspan style="font-size:9.6px" dy="0.5">−</tspan><tspan dy="-0.5"> </tspan>1</text>
<text x="298.60" y="439.13" class="tk" text-anchor="end">0</text>
<text x="298.60" y="422.05" class="tk" text-anchor="end">1</text>
<text x="298.60" y="404.98" class="tk" text-anchor="end">2</text>
<text x="298.60" y="387.91" class="tk" text-anchor="end">3</text>
<text x="298.60" y="370.84" class="tk" text-anchor="end">4</text>
<text x="298.60" y="353.76" class="tk" text-anchor="end">5</text>
<text x="298.60" y="336.69" class="tk" text-anchor="end">6</text>
<text x="298.60" y="319.62" class="tk" text-anchor="end">7</text>
<text x="298.60" y="302.55" class="tk" text-anchor="end">8</text>
<text x="298.60" y="285.47" class="tk" text-anchor="end">9</text>
<text x="298.60" y="268.40" class="tk" text-anchor="end">10</text>
<text x="304.70" y="466.60" class="tk" text-anchor="middle">0</text>
<text x="325.93" y="466.60" class="tk" text-anchor="middle">200</text>
<text x="347.15" y="466.60" class="tk" text-anchor="middle">400</text>
<text x="368.38" y="466.60" class="tk" text-anchor="middle">600</text>
<text x="389.61" y="466.60" class="tk" text-anchor="middle">800</text>
<text x="410.84" y="466.60" class="tk" text-anchor="middle">1000</text>
<text x="432.06" y="466.60" class="tk" text-anchor="middle">1200</text>
<text x="453.29" y="466.60" class="tk" text-anchor="middle">1400</text>
<text x="474.52" y="466.60" class="tk" text-anchor="middle">1600</text>
<text x="495.75" y="466.60" class="tk" text-anchor="middle">1800</text>
<text x="516.97" y="466.60" class="tk" text-anchor="middle">2000</text>
<text x="538.20" y="466.60" class="tk" text-anchor="middle">2200</text>
<text class="at" transform="translate(286.30 359.60) rotate(-90)" text-anchor="middle">Output (mV)</text>
<text class="at" x="421.65" y="481.60" text-anchor="middle">Loading (g)</text>
<text class="cap" x="232.40" y="495.80" textLength="300.30" lengthAdjust="spacing">(d) Y direction measurement circuit output curve of single-octagonal sensor</text>
<rect x="316.50" y="267.10" width="125.00" height="33.90" fill="#fff" stroke="#9a9a9a" stroke-width="1"/>
<path d="M318.00 273.30H337.50" stroke="#e8383a" stroke-width="1.2"/>
<circle cx="327.50" cy="273.30" r="2.3" fill="#e8383a"/>
<text class="lg" x="342.70" y="276.90" textLength="97.80" lengthAdjust="spacingAndGlyphs">Output for X loading</text>
<path d="M318.00 284.30H337.50" stroke="#1c64dc" stroke-width="1.2"/>
<path d="M327.50 281.60L330.06 285.97L324.94 285.97Z" fill="#1c64dc"/>
<text class="lg" x="342.70" y="287.90" textLength="97.80" lengthAdjust="spacingAndGlyphs">Output for Y loading</text>
<path d="M318.00 295.10H337.50" stroke="#2fa85e" stroke-width="1.2"/>
<path d="M327.50 297.80L330.06 293.43L324.94 293.43Z" fill="#2fa85e"/>
<text class="lg" x="342.70" y="298.70" textLength="97.80" lengthAdjust="spacingAndGlyphs">Output for Z loading</text>
<text class="eq" x="318.20" y="320.90" fill="#e32222" stroke="#e32222" stroke-width="0.12" textLength="90.00" lengthAdjust="spacing">y =&#160; -1.57<tspan class="mul">×</tspan>10<tspan class="sup" dy="-2.6">-5</tspan><tspan dy="2.6"> x -0.0036</tspan></text>
<text class="eq" x="318.20" y="335.80" fill="#1c64dc" stroke="#1c64dc" stroke-width="0.12" textLength="88.20" lengthAdjust="spacing">y =&#160; 4.40<tspan class="mul">×</tspan>10<tspan class="sup" dy="-2.6">-3</tspan><tspan dy="2.6"> x&#160; -0.0171</tspan></text>
<text class="eq" x="318.20" y="350.90" fill="#4a7d2e" stroke="#4a7d2e" stroke-width="0.12" textLength="90.80" lengthAdjust="spacing">y =&#160; 2.07<tspan class="mul">×</tspan>10<tspan class="sup" dy="-2.6">-5</tspan><tspan dy="2.6"> x – 0.0170</tspan></text>

<defs>
<filter id="pb" x="-5%" y="-5%" width="110%" height="110%"><feGaussianBlur stdDeviation="0.5"/></filter>
<clipPath id="pc"><rect x="441" y="348.2" width="97.5" height="75"/></clipPath>
<linearGradient id="bg" x1="0" y1="0" x2="1" y2="0"><stop offset="0" stop-color="#d8d2c9"/><stop offset="0.4" stop-color="#e0dcd6"/><stop offset="0.55" stop-color="#eeedeb"/><stop offset="1" stop-color="#e8e8e7"/></linearGradient>
<linearGradient id="lp" x1="0" y1="0" x2="0" y2="1"><stop offset="0" stop-color="#dcd6cb"/><stop offset="1" stop-color="#d2cabe"/></linearGradient>
<linearGradient id="rp" x1="0" y1="0" x2="0" y2="1"><stop offset="0" stop-color="#e4e0d7"/><stop offset="1" stop-color="#dcd6cb"/></linearGradient>
<linearGradient id="lf" x1="0" y1="0" x2="0" y2="1"><stop offset="0" stop-color="#b3aa9c"/><stop offset="1" stop-color="#9c9384"/></linearGradient>
</defs>
<g clip-path="url(#pc)" filter="url(#pb)">
<rect x="441" y="348.2" width="97.5" height="75" fill="url(#bg)"/>
<!-- white gap between assemblies -->
<path d="M477 348 L503 348 L499.5 371 L483 423.5 L474 423.5 L492.5 371 Z" fill="#f1f0ee"/>
<!-- left plate -->
<path d="M441 370.5 L492.5 370.5 L472.6 423.3 L441 423.3 Z" fill="url(#lp)"/>
<path d="M441 396.5 L483 396.5 L482.2 398.6 L441 398.6 Z" fill="#9d9486"/>
<path d="M441 398.6 L482.2 398.6 L479 407 L441 407 Z" fill="#e6e0d5"/>
<path d="M441 407 L479 407 L474.6 418 L441 418 Z" fill="url(#lf)"/>
<path d="M441 418 L474.6 418 L472.6 423.3 L441 423.3 Z" fill="#cec7bb"/>
<path d="M491.2 370.5 L493 370.5 L473.4 423.3 L471.6 423.3 Z" fill="#7f766a"/>
<!-- right plate -->
<path d="M499 370.5 L536.5 371.5 L530.3 423.3 L482.3 423.3 Z" fill="url(#rp)"/>
<path d="M484.4 416 L531.2 416 L530.3 423.3 L482.3 423.3 Z" fill="#c0b8aa"/>
<path d="M535.2 371.5 L537 371.5 L531 423.3 L529.4 423.3 Z" fill="#7f776b"/>
<!-- holes -->
<ellipse cx="443.8" cy="406.5" rx="2.3" ry="1.5" fill="#141110"/>
<ellipse cx="465.5" cy="406.7" rx="2.3" ry="1.5" fill="#141110"/>
<ellipse cx="479.8" cy="377.5" rx="1.7" ry="1.1" fill="#221e1c"/>
<ellipse cx="497.4" cy="408.4" rx="2.3" ry="1.5" fill="#141110"/>
<ellipse cx="519.8" cy="408.4" rx="2.3" ry="1.5" fill="#141110"/>
<ellipse cx="526.8" cy="377.8" rx="1.7" ry="1.1" fill="#221e1c"/>
<!-- left bracket -->
<rect x="441" y="358" width="9" height="38" fill="#d3c9ba"/>
<rect x="441" y="365" width="9" height="1" fill="#b3a797"/>
<rect x="441" y="374" width="9" height="1" fill="#bcb1a2"/>
<rect x="441" y="382" width="9" height="1" fill="#bcb1a2"/>
<!-- left octagon ring -->
<path d="M449 356.5 L462 356.5 L471.6 365 L471.6 389 L466 397 L450 397 L442 389 L442 364 Z" fill="#978877"/>
<path d="M442 364 L448 357.5 L449.5 358 L449.5 393 L442 389 Z" fill="#cbc0b0"/>
<path d="M449 356.5 L462 356.5 L464 359 L450.2 359.5 Z" fill="#b1a495"/>
<path d="M455 362 L466 362 L469 367 L469 388 L466 393 L455 393 L452 388 L452 367 Z" fill="#dad4cb"/>
<path d="M458 362 L466 362 L469 367 L469 373 L463 367.5 L458 365 Z" fill="#5e5046"/>
<path d="M452 386 L459 383.5 L465 393 L455 393 Z" fill="#4e433b"/>
<!-- nut -->
<rect x="443" y="356.5" width="6" height="6.5" fill="#6a6056"/>
<rect x="444.2" y="358.2" width="3.2" height="3.5" fill="#a89d8f"/>
<!-- dark wire bundle / shaft -->
<path d="M463 390 L467.5 390 L467.5 406 L464 406 Z" fill="#4a4038"/>
<!-- purple wires -->
<g stroke="#4d40aa" stroke-width="0.7" fill="none">
<path d="M454 389 C461 377 469 362 474 349"/>
<path d="M454 381 C463 372 471 358 478 348.5"/>
<path d="M456 391 C466 380 476 362 482 349"/>
<path d="M457 377 C466 370 476 358 486 349"/>
<path d="M460 386 C468 376 480 360 490 349"/>
<path d="M455 374 C460 369 465 360 469 351"/>
<path d="M466 383 C474 372 484 360 492 352"/>
<path d="M463 394 C469 386 473 376 477 366"/>
</g>
<path d="M466 355.5 L470 348.5" stroke="#25201d" stroke-width="1.3"/>
<path d="M482 350 L494 348.8" stroke="#d83838" stroke-width="1"/>
<!-- right block -->
<rect x="497.2" y="360" width="14" height="38" fill="#e3ded3"/>
<rect x="497.2" y="360" width="1.4" height="38" fill="#bdb4a6"/>
<rect x="497.2" y="386" width="13.5" height="11.8" fill="#c2b6a3"/>
<rect x="497.2" y="371" width="14" height="0.8" fill="#cfc7ba"/>
<rect x="497.2" y="378.5" width="14" height="0.8" fill="#cfc7ba"/>
<rect x="506" y="398" width="8" height="8.5" fill="#dcd9d2"/>
<!-- nut right -->
<rect x="501" y="356.8" width="8.5" height="7.5" fill="#cdc7bd"/>
<ellipse cx="505.2" cy="360.5" rx="2.3" ry="2.4" fill="#3f3833"/>
<!-- coil -->
<ellipse cx="515.4" cy="382.5" rx="4.6" ry="18.8" fill="#c9ada0" stroke="#73342a" stroke-width="3.6"/>
<ellipse cx="515.4" cy="382.5" rx="4.6" ry="18.8" fill="none" stroke="#a4503c" stroke-width="1" stroke-dasharray="1.2 2.2" opacity="0.7"/>
<!-- orange wires -->
<g stroke="#e0521e" stroke-width="1.2" fill="none">
<path d="M521 352 C523 365 523.5 380 522 400"/>
<path d="M523.5 351 C526.5 364 527 378 524.5 399"/>
<path d="M525.6 353 C528 366 527.6 382 525.5 395"/>
</g>
<path d="M515 360 L521 349" stroke="#e2c01c" stroke-width="1.2"/>
<path d="M519.2 356 L523 349" stroke="#2b63c8" stroke-width="1"/>
<path d="M521.5 352 L525 348.5" stroke="#3a9a4a" stroke-width="1"/>
</g>

</svg>
</body></html>
